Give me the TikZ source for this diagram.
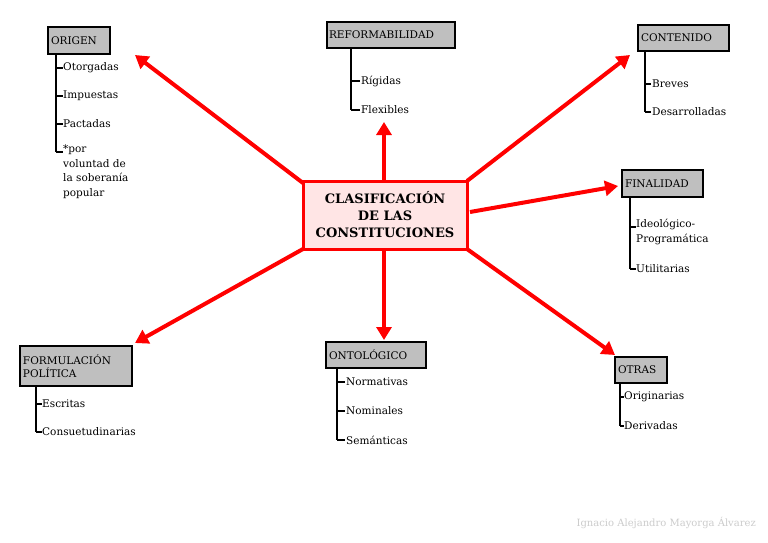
\documentclass[tikz,border=0pt]{standalone}
\usepackage{fontspec}
\setmainfont{DejaVu Serif}
\usetikzlibrary{arrows.meta}
\begin{document}
\begin{tikzpicture}[x=1pt,y=-1pt,
  cat/.style={draw=black,line width=1.8pt,fill=black!25,inner sep=0pt,font=\fontsize{10.5}{12.5}\selectfont,align=left},
  main/.style={draw=red,line width=3pt,fill=red!10,inner sep=0pt,font=\bfseries\fontsize{13}{17}\selectfont,align=center},
  arr/.style={red,line width=4pt,-{Triangle[length=13pt,width=15pt]}},
  tree/.style={black,line width=1.6pt},
  it/.style={anchor=west,inner sep=0pt,font=\fontsize{10.5}{14.5}\selectfont,align=left}]
\useasboundingbox (0,0) rectangle (768,543);
\fill[white] (0,0) rectangle (768,543);
\node[main,minimum width=164pt,minimum height=68pt] (c) at (385,215) {CLASIFICACIÓN\\DE LAS\\CONSTITUCIONES};
\node[cat,minimum width=62pt,minimum height=27pt,text width=56pt] (o) at (79,40.5) {ORIGEN};
\node[cat,minimum width=128pt,minimum height=26pt,text width=124pt] (r) at (391,35) {REFORMABILIDAD};
\node[cat,minimum width=91pt,minimum height=26pt,text width=85pt] (k) at (683.5,38) {CONTENIDO};
\node[cat,minimum width=81pt,minimum height=27pt,text width=75pt] (f) at (662.5,183.5) {FINALIDAD};
\node[cat,minimum width=112pt,minimum height=40pt,text width=106pt] (p) at (76,366) {FORMULACIÓN\\POLÍTICA};
\node[cat,minimum width=100pt,minimum height=26pt,text width=94pt] (n) at (376,355) {ONTOLÓGICO};
\node[cat,minimum width=52pt,minimum height=26pt,text width=46pt] (t) at (641,370) {OTRAS};
\coordinate (a1) at (303,183); \coordinate (e1) at (135,55);
\coordinate (a2) at (384,181); \coordinate (e2) at (384,122);
\coordinate (a3) at (467,181); \coordinate (e3) at (630,55);
\coordinate (a4) at (470,212); \coordinate (e4) at (618,186);
\coordinate (a5) at (303,249); \coordinate (e5) at (135,343);
\coordinate (a6) at (384,249); \coordinate (e6) at (384,340);
\coordinate (a7) at (467,249); \coordinate (e7) at (615,355);
\foreach \i in {1,...,7}{\draw[arr] (a\i) -- (e\i);}
% trees
\draw[tree] (56,54) -- (56,152);
\foreach \y/\t in {68/Otorgadas,96/Impuestas,124/Pactadas}{\draw[tree](56,\y)--(63,\y); \node[it] at (63,\y) {\t};}
\draw[tree](56,152)--(63,152);
\node[it,anchor=north west] at (63,145) {*por\\voluntad de\\la soberanía\\popular};
\draw[tree] (351,48) -- (351,110);
\foreach \y/\t in {81/Rígidas,110/Flexibles}{\draw[tree](351,\y)--(360,\y); \node[it] at (361,\y) {\t};}
\draw[tree] (645,51) -- (645,112);
\foreach \y/\t in {84/Breves,112/Desarrolladas}{\draw[tree](645,\y)--(651,\y); \node[it] at (652,\y) {\t};}
\draw[tree] (630,197) -- (630,269);
\draw[tree](630,227)--(636,227); \node[it,anchor=north west] at (636,219) {Ideológico-\\Programática};
\draw[tree](630,269)--(636,269); \node[it] at (636,269) {Utilitarias};
\draw[tree] (36,386) -- (36,432);
\foreach \y/\t in {404/Escritas,432/Consuetudinarias}{\draw[tree](36,\y)--(42,\y); \node[it] at (42,\y) {\t};}
\draw[tree] (337,368) -- (337,440);
\foreach \y/\t in {382/Normativas,411/Nominales,440/Semánticas}{\draw[tree](337,\y)--(345,\y); \node[it] at (346,\y) {\t};}
\draw[tree] (620,383) -- (620,426);
\foreach \y/\t in {397/Originarias,426/Derivadas}{\draw[tree](620,\y)--(624,\y); \node[it] at (624,\y) {\t};}
\node[anchor=east,inner sep=0pt,text=black!20,font=\fontsize{10}{11}\selectfont] (sig) at (756,523) {Ignacio Alejandro Mayorga Álvarez};
\end{tikzpicture}
\end{document}
